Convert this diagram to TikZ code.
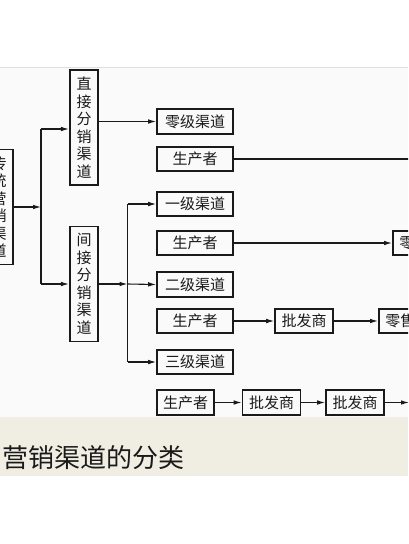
\documentclass[tikz,border=0pt]{standalone}
\usepackage{fontspec}
\setmainfont{Noto Sans CJK SC}
\usetikzlibrary{arrows.meta}
\definecolor{bandbeige}{HTML}{F0EEE2}
\definecolor{diagbg}{HTML}{FAFAFA}
\definecolor{ink}{HTML}{1A1A1A}
\begin{document}
\begin{tikzpicture}[x=1pt,y=-1pt,
  box/.style={draw=ink, line width=1.6pt, minimum height=24.5pt, inner sep=0pt, text=ink, font=\fontsize{15}{17}\selectfont},
  wide/.style={box, minimum width=76pt},
  mid/.style={box, minimum width=58pt},
  vbox/.style={draw=ink, line width=1.6pt, minimum width=28.5pt, minimum height=115pt, inner sep=0pt, align=center, text=ink, font=\fontsize{15}{17.5}\selectfont},
  link/.style={line width=1.1pt, draw=ink},
  arr/.style={link, -{Latex[length=8pt,width=4.6pt]}}]
\useasboundingbox (0,0) rectangle (408,544);
\clip (0,0) rectangle (408,544);
\fill[white] (0,0) rectangle (408,544);
\fill[diagbg] (0,67) rectangle (408,417);
\draw[gray!25, line width=0.8pt] (0,67) -- (408,67);
\fill[bandbeige] (0,417) rectangle (408,476);

% column boxes
\node[vbox] (src) at (-1,207) {传\\统\\营\\销\\渠\\道};
\node[vbox] (direct) at (84,127.5) {直\\接\\分\\销\\渠\\道};
\node[vbox] (indirect) at (84,284) {间\\接\\分\\销\\渠\\道};

% channel level boxes
\node[wide] (lv0) at (195,121.5) {零级渠道};
\node[wide] (p1) at (195,159) {生产者};
\node[wide] (lv1) at (195,204) {一级渠道};
\node[wide] (p2) at (195,243) {生产者};
\node[mid, anchor=west] (r2) at (392,243) {零售商};
\node[wide] (lv2) at (195,284.5) {二级渠道};
\node[wide] (p3) at (195,321) {生产者};
\node[mid] (w3) at (304,321) {批发商};
\node[mid, anchor=west] (r3) at (378,321) {零售商};
\node[wide] (lv3) at (195,362) {三级渠道};
\node[mid, minimum width=57pt] (p4) at (185.5,402.5) {生产者};
\node[mid] (w4a) at (271.5,402.5) {批发商};
\node[mid] (w4b) at (355,402.5) {批发商};
\coordinate (c1) at (430,159);
\coordinate (c4) at (409,402.5);

% junctions
\coordinate (ja) at (41,129);
\coordinate (jb) at (41,284);
\coordinate (jm) at (41,207);
\coordinate (ka) at (127.5,204);
\coordinate (kb) at (127.5,362);
\coordinate (km) at (127.5,284);

% left tree
\draw[arr] (src.east |- jm) -- (jm);
\draw[link] (ja) -- (jb);
\draw[arr] (ja) -- (direct.west |- ja);
\draw[arr] (jb) -- (indirect.west |- jb);

% direct branch
\draw[arr] (direct.east |- lv0) -- (lv0.west);
\draw[link] (p1.east) -- (c1);

% indirect tree
\draw[arr] (indirect.east |- km) -- (km);
\draw[link] (ka) -- (kb);
\draw[arr] (ka) -- (lv1.west);
\draw[arr] (km) -- (lv2.west);
\draw[arr] (kb) -- (lv3.west);

% chains
\draw[arr] (p2.east) -- (r2.west);
\draw[arr] (p3.east) -- (w3.west);
\draw[arr] (w3.east) -- (r3.west);
\draw[arr] (p4.east) -- (w4a.west);
\draw[arr] (w4a.east) -- (w4b.west);
\draw[arr] (w4b.east) -- (c4);

% title
\node[anchor=base west, inner sep=0pt, text=ink, font=\fontsize{26}{26}\selectfont] (title) at (2,467) {营销渠道的分类};
\end{tikzpicture}
\end{document}
